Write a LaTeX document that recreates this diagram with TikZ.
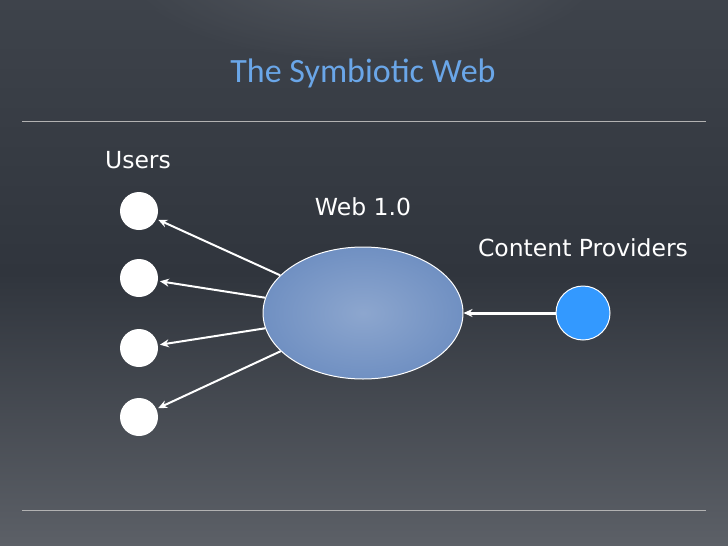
\documentclass[tikz,border=0pt]{standalone}
\usepackage{fontspec}
\setmainfont{DejaVu Sans}
\newfontfamily\titlefont{Carlito}
\usetikzlibrary{shapes.geometric,arrows.meta}
\definecolor{bgtop}{HTML}{3E434B}
\definecolor{bgmid}{HTML}{30353D}
\definecolor{bgbot}{HTML}{5C6067}
\definecolor{titleblue}{HTML}{6AA6E8}
\definecolor{ellfill}{HTML}{7090C2}
\definecolor{provblue}{HTML}{3399FF}
\tikzset{
  user/.style={circle,fill=white,minimum size=38pt,inner sep=0pt},
  lbl/.style={text=white,font=\fontsize{23.5}{28}\selectfont},
  arr/.style={draw=white,line width=2pt,-{Stealth[length=9pt,width=8pt,open]}}
}
\begin{document}
\begin{tikzpicture}[x=1pt,y=-1pt]
\useasboundingbox (0,0) rectangle (728,546);
\shade[top color=bgtop,bottom color=bgbot,middle color=bgmid] (0,0) rectangle (728,546);
\shade[inner color=white!30!bgtop,outer color=bgtop,opacity=0.4] (364,-40) ellipse (250 and 100);
\node[text=titleblue,font=\titlefont\fontsize{34}{40}\selectfont] (title) at (363,73) {The Symbiotic Web};
\draw[gray!60,line width=0.6pt] (22,121) -- (706,121);
\draw[gray!60,line width=0.6pt] (22,510) -- (706,510);
\node[lbl] (ulbl) at (138,160) {Users};
\node[lbl] (wlbl) at (363,207) {Web 1.0};
\node[lbl] (clbl) at (583,248) {Content Providers};
\node[user] (u1) at (139,211) {};
\node[user] (u2) at (139,278) {};
\node[user] (u3) at (139,348) {};
\node[user] (u4) at (139,417) {};
\node[ellipse,draw=white,line width=1pt,inner color=ellfill!80!white,outer color=ellfill,minimum width=200pt,minimum height=132pt] (e) at (363,313) {};
\node[circle,draw=white,line width=1pt,fill=provblue,minimum size=54pt,inner sep=0pt] (p) at (583,313) {};
\draw[arr,line width=3pt] (p) -- (e);
\foreach \u in {u1,u2,u3,u4} \draw[arr,shorten >=2pt] (e) -- (\u);
\end{tikzpicture}
\end{document}
